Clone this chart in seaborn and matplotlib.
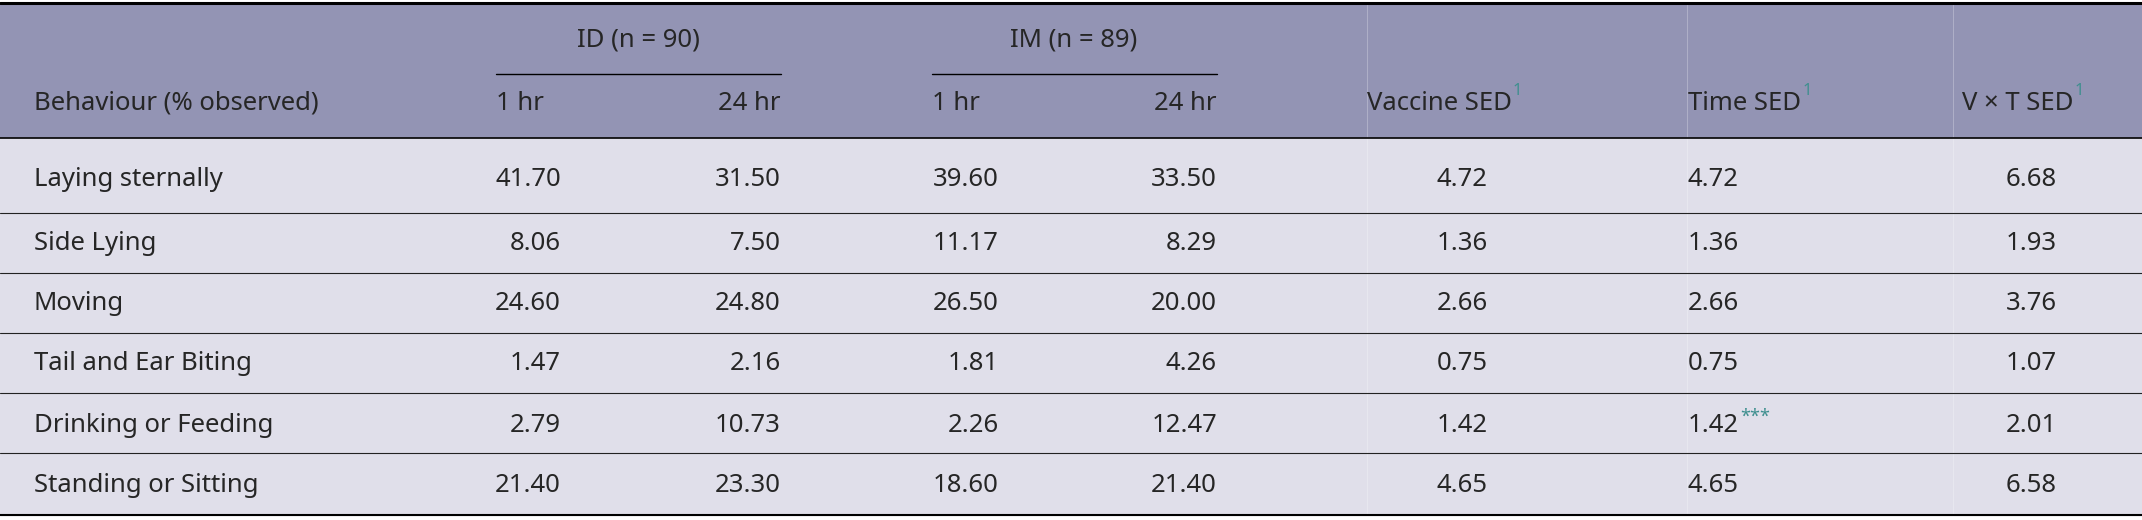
import numpy as np
import pandas as pd
import matplotlib
matplotlib.use("Agg")
import matplotlib.pyplot as plt
import seaborn as sns

sns.set_style("white")
plt.rcParams['font.family'] = ['Noto Sans', 'DejaVu Sans']

# table data
behaviours = ["Laying sternally", "Side Lying", "Moving", "Tail and Ear Biting",
              "Drinking or Feeding", "Standing or Sitting"]
id_1hr = ["41.70", "8.06", "24.60", "1.47", "2.79", "21.40"]
id_24hr = ["31.50", "7.50", "24.80", "2.16", "10.73", "23.30"]
im_1hr = ["39.60", "11.17", "26.50", "1.81", "2.26", "18.60"]
im_24hr = ["33.50", "8.29", "20.00", "4.26", "12.47", "21.40"]
vaccine_sed = ["4.72", "1.36", "2.66", "0.75", "1.42", "4.65"]
time_sed = ["4.72", "1.36", "2.66", "0.75", "1.42", "4.65"]
time_sig = ["", "", "", "", "***", ""]
vxt_sed = ["6.68", "1.93", "3.76", "1.07", "2.01", "6.58"]

head_col = "#9394b4"
body_col = "#e0dfea"
teal = "#3f8f8f"
fs = 18.5

fig = plt.figure(figsize=(21.42, 5.2), dpi=100)
ax = fig.add_axes([0, 0, 1, 1])
ax.set_xlim(0, 2142)
ax.set_ylim(520, 0)
ax.axis("off")

# backgrounds
ax.axhspan(3, 138, color=head_col, zorder=0)
ax.axhspan(138, 515, color=body_col, zorder=0)
for x in [1367, 1687, 1953]:
    ax.axvline(x, color="white", lw=0.6, alpha=0.3, zorder=1)

# rules
ax.axhline(3, color="black", lw=2.2)
ax.axhline(138, color="black", lw=1.2)
row_y = [179, 243, 303, 363, 425, 485]
for yb in [213, 273, 333, 393, 453]:
    ax.axhline(yb, color="#222222", lw=0.8)
ax.axhline(515, color="black", lw=1.5)

# header
ax.text(638, 40, "ID (n = 90)", ha="center", va="center", fontsize=fs)
ax.text(1074, 40, "IM (n = 89)", ha="center", va="center", fontsize=fs)
ax.plot([496, 781], [74, 74], color="black", lw=1)
ax.plot([932, 1217], [74, 74], color="black", lw=1)
hy = 103
ax.text(34, hy, "Behaviour (% observed)", ha="left", va="center", fontsize=fs)
ax.text(496, hy, "1 hr", ha="left", va="center", fontsize=fs)
ax.text(781, hy, "24 hr", ha="right", va="center", fontsize=fs)
ax.text(932, hy, "1 hr", ha="left", va="center", fontsize=fs)
ax.text(1217, hy, "24 hr", ha="right", va="center", fontsize=fs)
for x, lab in [(1367, "Vaccine SED"), (1688, "Time SED"), (1962, "V × T SED")]:
    t = ax.text(x, hy, lab, ha="left", va="center", fontsize=fs)
    fig.canvas.draw()
    bb = t.get_window_extent().transformed(ax.transData.inverted())
    ax.text(bb.x1 + 1, hy - 12, "1", ha="left", va="center", fontsize=12, color=teal)

# body
for i, y in enumerate(row_y):
    ax.text(34, y, behaviours[i], ha="left", va="center", fontsize=fs)
    ax.text(561, y, id_1hr[i], ha="right", va="center", fontsize=fs)
    ax.text(781, y, id_24hr[i], ha="right", va="center", fontsize=fs)
    ax.text(999, y, im_1hr[i], ha="right", va="center", fontsize=fs)
    ax.text(1217, y, im_24hr[i], ha="right", va="center", fontsize=fs)
    ax.text(1462, y, vaccine_sed[i], ha="center", va="center", fontsize=fs)
    t = ax.text(1688, y, time_sed[i], ha="left", va="center", fontsize=fs)
    if time_sig[i]:
        fig.canvas.draw()
        bb = t.get_window_extent().transformed(ax.transData.inverted())
        ax.text(bb.x1 + 1, y - 8, time_sig[i], ha="left", va="center",
                fontsize=13, color=teal)
    ax.text(2031, y, vxt_sed[i], ha="center", va="center", fontsize=fs)

fig.savefig("out.png", dpi=100)
